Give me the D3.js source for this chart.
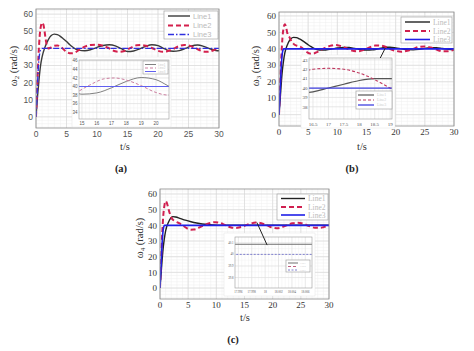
<!DOCTYPE html>
<html><head><meta charset="utf-8">
<script src="https://cdn.jsdelivr.net/npm/d3@7"></script>
<style>body{margin:0;background:#fff}svg{display:block}</style></head>
<body><svg id="c" width="474" height="351"></svg>
<script>
// ---------- DATA ----------
const xTicksMain = [0,5,10,15,20,25,30];
const yTicksMain = [0,10,20,30,40,50,60];
const legendLabels = ["Line1","Line2","Line3"];
const panelLabels = ["(a)","(b)","(c)"];
const ySubscripts = ["2","3","4"];

// panel (a)
const a_line1 = [[0,0],[0.25,12],[0.5,22],[0.75,30],[1,35],[1.5,41],[2,45],[2.5,47.5],[3,48.3],[3.5,48],[4,47],[4.5,45.5],[5,44],[5.5,42.3],[6,40.8],[6.5,39.6],[7,39],[8,38.6],[9,39.3],[10,40.6],[11,41.7],[12,42.1],[13,41.5],[14,39.8],[15,38.2],[16,38.5],[17,39.7],[18,41.2],[19,42.1],[20,41.6],[20.8,40.2],[21.5,39],[22.5,38.3],[23.5,38.7],[24.5,40],[25.5,41.5],[26.5,42],[27.5,41.2],[28.5,39.8],[29.5,38.8],[30,38.6]];
const a_line2 = [[0,0],[0.2,18],[0.4,35],[0.6,47],[0.8,53],[1,55],[1.2,54],[1.4,50],[1.6,45],[1.8,41.5],[2,40],[2.5,40.5],[3,41.5],[3.5,41.7],[4,41],[4.5,39.5],[5,38],[5.5,37.2],[6,37.2],[6.5,37.8],[7,39],[8,41],[9,42],[10,42.2],[11,41.5],[12,40],[13,38.3],[13.7,38],[14.5,38.5],[15.5,40.3],[16.5,41.8],[17.2,42],[18,41.5],[19,40.2],[20,38.6],[20.8,38],[21.5,38.3],[22.5,39.7],[23.5,41.4],[24.3,42],[25,41.7],[26,40.4],[27,38.7],[27.8,38],[28.5,38.2],[29.5,39.5],[30,40]];
const a_line3 = [[0,0],[0.2,15],[0.4,30],[0.6,37],[0.8,39.5],[1,40],[30,40]];
const a_insetX = [15,16,17,18,19,20];
const a_insetY = [34,36,38,40,42,44,46];

// panel (b)
const b_line1 = [[0,0],[0.25,12],[0.5,24],[0.75,32],[1,37.5],[1.5,43],[2,46],[2.5,47],[3,46.8],[3.5,46],[4,45],[4.5,43.8],[5,42.5],[5.5,41.3],[6,40.3],[6.5,39.6],[7,39.3],[7.5,39.2],[8,39.3],[9,39.8],[10,40.5],[11,40.9],[12,40.8],[13,40.2],[14,39.6],[15,39.3],[16,39.4],[16.5,39.6],[17,40],[17.5,40.4],[18,40.8],[18.5,41],[19,41],[20,40.6],[21,40],[22,39.5],[23,39.4],[24,39.7],[25,40.3],[26,40.7],[27,40.7],[28,40.2],[29,39.7],[30,39.5]];
const b_line2 = [[0,0],[0.2,18],[0.4,35],[0.6,47],[0.8,53],[1,55],[1.2,53.5],[1.4,50],[1.6,48],[1.8,47],[2,45.5],[2.5,43],[3,42],[3.5,41.5],[4,40.5],[4.5,39],[5,37.5],[5.5,37],[6,37.2],[6.5,38],[7,39],[8,40.8],[9,42],[9.8,42.3],[10.5,41.8],[11.5,40.5],[12.5,39],[13.5,38.5],[14.5,39.3],[15.5,40.8],[16.5,42],[17,42.1],[17.5,42],[18,41.6],[18.5,40.9],[19,40],[20,38.8],[21,38.3],[22,38.8],[23,40],[24,41.2],[25,41.5],[26,40.8],[27,39.5],[28,38.5],[29,38.6],[30,39.5]];
const b_line3 = [[0,0],[0.2,15],[0.4,30],[0.6,38],[0.8,40],[30,40]];
const b_insetX = [16.5,17,17.5,18,18.5,19];
const b_insetY = [38,39,40,41,42,43];

// panel (c)
const c_line1 = [[0,0],[0.25,12],[0.5,23],[0.75,31],[1,36.5],[1.5,42],[2,45],[2.3,45.6],[2.8,45.3],[3.5,44.5],[4.5,43.3],[5.5,42.3],[6.5,41.5],[7.5,40.9],[8.5,40.5],[9.5,40.3],[11,40.15],[13,40.1],[15,40.09],[30,40.08]];
const c_line2 = [[0,0],[0.2,18],[0.4,35],[0.6,47],[0.8,53],[1,55.5],[1.2,54.5],[1.4,52],[1.7,48],[2,45],[2.5,43],[3,42],[3.5,41.2],[4,40],[4.5,38.8],[5,37.7],[5.5,37.2],[6,37.3],[6.5,37.8],[7,38.7],[8,40.3],[9,41.6],[9.8,42],[10.5,41.7],[11.5,40.3],[12.5,38.8],[13.3,38.3],[14,38.6],[15,39.7],[16,41],[17,41.8],[17.5,41.7],[18,41.3],[19,40],[20,38.5],[20.7,38.2],[21.5,38.6],[22.5,40],[23.5,41.3],[24.5,41.7],[25.5,41],[26.5,39.5],[27.5,38.5],[28.3,38.4],[29,38.8],[30,39.8]];
const c_line3 = [[0,0],[0.2,15],[0.4,30],[0.6,38],[0.8,40],[30,40]];
const c_insetX = [17.996,17.998,18,18.002,18.004,18.006];
const c_insetY = [39.8,39.9,40,40.1];

// ---------- DRAW ----------
const svg = d3.select("#c");
const SANS = "'Liberation Sans', Arial, sans-serif";
const SERIF = "'Liberation Serif', 'Times New Roman', serif";
let clipId = 0;

const panels = [
  {
    lines:[a_line1,a_line2,a_line3], font:SANS, tickColor:"#555", tickSize:8.5,
    x:[36,219], y:[9,128], yDom:[-6.5,63],
    styles:[{c:"#3a3a3a",w:1.4},{c:"#d4204c",w:2,d:"5,3"},{c:"#3030e0",w:1.4,d:"6,2,1.5,2"}],
    legend:{x:[164,218],y:[11,39],rows:[16,25.5,34.5],lx:[168,190],tx:193,fs:7.5},
    ylab:[17,66], xlab:[125,150], plab:[121,172],
    inset:{x:[79,169],y:[60,119],xDom:[14.8,20.88],yDom:[32.4,46.2],xt:a_insetX,yt:a_insetY,
      bg:[72,57,99,70],fs:4.5,fmt:d=>d,
      styles:[{c:"#808080",w:1},{c:"#cc7fa0",w:1,d:"3,2"},{c:"#6060f0",w:1}],
      legend:{x:[143,168],y:[61,74],rows:[64.5,68,71.5],lx:[145,156],tx:158,fs:3},
      lines:[0,1,2]}
  },
  {
    lines:[b_line1,b_line2,b_line3], font:SERIF, tickColor:"#333", tickSize:9,
    x:[279,454], y:[12,126], yDom:[-6.9,62.4],
    styles:[{c:"#222",w:1.4},{c:"#d02050",w:2,d:"5,3"},{c:"#2020e8",w:1.6}],
    legend:{x:[401,452],y:[17,43],rows:[22,31,39.5],lx:[405,430],tx:433,fs:7.5},
    ylab:[259,66], xlab:[362,150], plab:[352,172],
    inset:{x:[309,392],y:[58,119],xDom:[16.37,19.06],yDom:[36.7,43.2],xt:b_insetX,yt:b_insetY,
      bg:[301,55,94,73],fs:5,fmt:d=>d,
      styles:[{c:"#555",w:1.2},{c:"#c03a60",w:1.1,d:"3,2"},{c:"#4040e0",w:1.3}],
      legend:{x:[356,392],y:[91,109],rows:[95,100,105],lx:[358,374],tx:377,fs:4},
      lines:[0,1,2], conn:{from:[18.2,40.3],to:[18.68,43.2]}}
  },
  {
    lines:[c_line1,c_line2,c_line3], font:SERIF, tickColor:"#333", tickSize:9,
    x:[160,329], y:[189,299], yDom:[-7,63.2],
    styles:[{c:"#222",w:1.4},{c:"#d02050",w:2,d:"5,3"},{c:"#2020e8",w:1.6}],
    legend:{x:[277,328],y:[194,220],rows:[198.5,207,215],lx:[281,305],tx:308,fs:7.5},
    ylab:[143,238], xlab:[245,321], plab:[233,343],
    inset:{x:[235,312],y:[237,288],xDom:[17.9955,18.007],yDom:[39.71,40.15],xt:c_insetX,yt:c_insetY,
      bg:[224,233,91,63],fs:3,fmt:d=>d3.format("")(+d.toFixed(3)),
      styles:[{c:"#707070",w:1},{c:"#c06080",w:1,d:"3,2"},{c:"#8080d0",w:1,d:"2,1.5"}],
      legend:{x:[286,310],y:[260,272],rows:[263,266.5,270],lx:[288,298],tx:300,fs:2.5},
      lines:[0,1,2], conn:{from:[17.2,41.8],to:[18.0003,40.08]}}
  }
];

function grid(g, xs, ys, xMinor, yMinor, xMajor, yMajor, minorC, majorC){
  const [x0,x1]=xs.range(), [y0,y1]=ys.range();
  g.selectAll(null).data(xMinor).join("line")
    .attr("x1",d=>xs(d)).attr("x2",d=>xs(d)).attr("y1",y0).attr("y2",y1)
    .attr("stroke",minorC).attr("stroke-width",0.5);
  g.selectAll(null).data(yMinor).join("line")
    .attr("y1",d=>ys(d)).attr("y2",d=>ys(d)).attr("x1",x0).attr("x2",x1)
    .attr("stroke",minorC).attr("stroke-width",0.5);
  g.selectAll(null).data(xMajor).join("line")
    .attr("x1",d=>xs(d)).attr("x2",d=>xs(d)).attr("y1",y0).attr("y2",y1)
    .attr("stroke",majorC).attr("stroke-width",0.7);
  g.selectAll(null).data(yMajor).join("line")
    .attr("y1",d=>ys(d)).attr("y2",d=>ys(d)).attr("x1",x0).attr("x2",x1)
    .attr("stroke",majorC).attr("stroke-width",0.7);
}

function drawLines(g, xs, ys, data, styles, idxs){
  const id = "clip"+(clipId++);
  const [x0,x1]=xs.range(), [y0,y1]=ys.range();
  g.append("clipPath").attr("id",id).append("rect")
    .attr("x",x0).attr("y",y1).attr("width",x1-x0).attr("height",y0-y1);
  const line = d3.line().x(d=>xs(d[0])).y(d=>ys(d[1])).curve(d3.curveMonotoneX);
  const lg = g.append("g").attr("clip-path",`url(#${id})`);
  idxs.forEach(i=>{
    const s = styles[i];
    lg.append("path").attr("d",line(data[i])).attr("fill","none")
      .attr("stroke",s.c).attr("stroke-width",s.w)
      .attr("stroke-dasharray",s.d||null).attr("stroke-linejoin","round");
  });
}

function legend(g, L, styles, font, textC){
  g.append("rect").attr("x",L.x[0]).attr("y",L.y[0])
    .attr("width",L.x[1]-L.x[0]).attr("height",L.y[1]-L.y[0])
    .attr("fill","#fff").attr("stroke","#999").attr("stroke-width",0.6);
  legendLabels.forEach((lab,i)=>{
    const s=styles[i];
    g.append("line").attr("x1",L.lx[0]).attr("x2",L.lx[1]).attr("y1",L.rows[i]).attr("y2",L.rows[i])
      .attr("stroke",s.c).attr("stroke-width",s.w).attr("stroke-dasharray",s.d||null);
    g.append("text").attr("x",L.tx).attr("y",L.rows[i]).attr("dy","0.35em")
      .attr("font-family",font).attr("font-size",L.fs).attr("fill",textC).text(lab);
  });
}

panels.forEach((p,pi)=>{
  const g = svg.append("g");
  const xs = d3.scaleLinear().domain([0,30]).range(p.x);
  const ys = d3.scaleLinear().domain(p.yDom).range([p.y[1],p.y[0]]);
  grid(g, xs, ys, d3.range(0,31,1), d3.range(-6,63,2), xTicksMain, yTicksMain, "#eeeeee", "#d9d9d9");
  drawLines(g, xs, ys, p.lines, p.styles, [0,1,2]);
  g.append("rect").attr("x",p.x[0]).attr("y",p.y[0]).attr("width",p.x[1]-p.x[0]).attr("height",p.y[1]-p.y[0])
    .attr("fill","none").attr("stroke","#8a8a8a").attr("stroke-width",0.8);
  // ticks
  g.selectAll(null).data(xTicksMain).join("text")
    .attr("x",d=>xs(d)).attr("y",p.y[1]+9).attr("text-anchor","middle")
    .attr("font-family",p.font).attr("font-size",p.tickSize).attr("fill",p.tickColor).text(d=>d);
  g.selectAll(null).data(yTicksMain).join("text")
    .attr("x",p.x[0]-3).attr("y",d=>ys(d)).attr("dy","0.35em").attr("text-anchor","end")
    .attr("font-family",p.font).attr("font-size",p.tickSize).attr("fill",p.tickColor).text(d=>d);
  // axis labels
  const yl = g.append("text").attr("transform",`translate(${p.ylab[0]},${p.ylab[1]}) rotate(-90)`)
    .attr("text-anchor","middle").attr("font-family",SERIF).attr("font-size",10.5).attr("fill","#333");
  yl.append("tspan").text("ω");
  yl.append("tspan").attr("font-size",7).attr("dy",2).text(ySubscripts[pi]);
  yl.append("tspan").attr("dy",-2).text(" (rad/s)");
  g.append("text").attr("x",p.xlab[0]).attr("y",p.xlab[1]).attr("text-anchor","middle")
    .attr("font-family",SERIF).attr("font-size",10.5).attr("fill","#333").text("t/s");
  g.append("text").attr("x",p.plab[0]).attr("y",p.plab[1]).attr("text-anchor","middle")
    .attr("font-family",SERIF).attr("font-size",10.5).attr("font-weight","bold").attr("fill","#222").text(panelLabels[pi]);
  legend(g, p.legend, p.styles, p.font, "#bbbbbb");

  // inset
  const I = p.inset;
  const ix = d3.scaleLinear().domain(I.xDom).range(I.x);
  const iy = d3.scaleLinear().domain(I.yDom).range([I.y[1],I.y[0]]);
  g.append("rect").attr("x",I.bg[0]).attr("y",I.bg[1]).attr("width",I.bg[2]).attr("height",I.bg[3])
    .attr("fill","#fff").attr("stroke","#e4e4e4").attr("stroke-width",0.5);
  const ig = g.append("g");
  const xt = I.xt, yt = I.yt;
  const xMin = []; for(let k=0;k<xt.length-1;k++){ for(let m=1;m<4;m++) xMin.push(xt[k]+(xt[k+1]-xt[k])*m/4); }
  const yMin = []; for(let k=0;k<yt.length-1;k++){ yMin.push((yt[k]+yt[k+1])/2); }
  grid(ig, ix, iy, xMin, yMin, xt, yt, "#f0f0f0", "#dedede");
  drawLines(ig, ix, iy, p.lines, I.styles, I.lines);
  ig.append("rect").attr("x",I.x[0]).attr("y",I.y[0]).attr("width",I.x[1]-I.x[0]).attr("height",I.y[1]-I.y[0])
    .attr("fill","none").attr("stroke","#999").attr("stroke-width",0.6);
  ig.selectAll(null).data(xt).join("text")
    .attr("x",d=>ix(d)).attr("y",I.y[1]+I.fs+1.5).attr("text-anchor","middle")
    .attr("font-family",p.font).attr("font-size",I.fs).attr("fill","#555").text(d=>I.fmt(d));
  ig.selectAll(null).data(yt).join("text")
    .attr("x",I.x[0]-1.5).attr("y",d=>iy(d)).attr("dy","0.35em").attr("text-anchor","end")
    .attr("font-family",p.font).attr("font-size",I.fs).attr("fill","#555").text(d=>I.fmt(d));
  legend(ig, I.legend, I.styles, p.font, "#cccccc");
  if (I.conn){
    g.append("line").attr("x1",xs(I.conn.from[0])).attr("y1",ys(I.conn.from[1]))
      .attr("x2",ix(I.conn.to[0])).attr("y2",iy(I.conn.to[1]))
      .attr("stroke","#222").attr("stroke-width",1);
  }
});
</script></body></html>
